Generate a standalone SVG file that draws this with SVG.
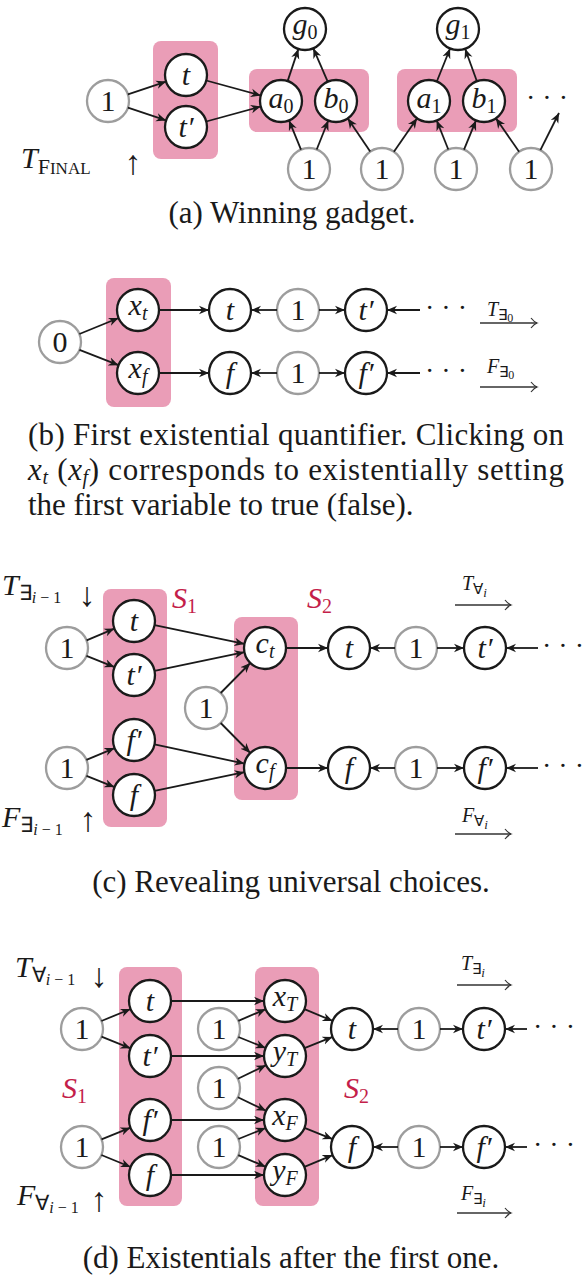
<svg xmlns="http://www.w3.org/2000/svg" width="583" height="1277" viewBox="0 0 583 1277">
<style>
text{font-family:"Liberation Serif","Times New Roman",serif;fill:#1a1a1a}
.lbl{font-size:30px;text-anchor:middle}
.it{font-style:italic}
.sub{font-size:20px;font-style:normal}
.subi{font-size:20px;font-style:italic}
.n circle{fill:#fff;stroke:#1a1a1a;stroke-width:2.3}
.g circle{fill:#fff;stroke:#9d9d9d;stroke-width:2.3}
.pink{fill:#ea9db7}
.e{stroke:#1a1a1a;stroke-width:1.8;fill:none;marker-end:url(#ah)}
.la{stroke:#333;stroke-width:1.3;fill:none;marker-end:url(#oa)}
.s{fill:#c41e4a;font-style:italic;font-size:30px}
.cap{font-size:31px}
.side{font-size:30px}
.arr{font-family:"Liberation Serif","DejaVu Serif",serif;font-size:34px;text-anchor:middle;fill:#1a1a1a}
.dots{font-size:28px;text-anchor:middle}
</style>
<defs>
<marker id="ah" markerUnits="userSpaceOnUse" markerWidth="12" markerHeight="10" refX="10" refY="5" orient="auto"><path d="M0,0.8 L10,5 L0,9.2 L3,5 z" fill="#1a1a1a"/></marker>
<marker id="oa" markerUnits="userSpaceOnUse" markerWidth="10" markerHeight="12" refX="8" refY="6" orient="auto"><path d="M2,1 C4,3.5 6,5.3 8,6 C6,6.7 4,8.5 2,11" fill="none" stroke="#333" stroke-width="1.2"/></marker>
</defs>

<!-- Panel (a) -->
<g id="a-boxes">
<rect class="pink" x="153" y="41" width="65" height="118" rx="8"/>
<rect class="pink" x="249" y="69" width="120" height="63" rx="8"/>
<rect class="pink" x="397" y="69" width="120" height="63" rx="8"/>
</g>
<g id="a-one" class="g"><circle cx="108" cy="101" r="21"/><text class="lbl" x="108" y="111">1</text></g>
<g id="a-t" class="n"><circle cx="186" cy="75" r="21"/><text class="lbl it" x="186" y="85">t</text></g>
<g id="a-tp" class="n"><circle cx="186" cy="127" r="21"/><text class="lbl it" x="186" y="137">t′</text></g>
<g id="a-a0" class="n"><circle cx="281" cy="101" r="21"/><text class="lbl" x="281" y="108"><tspan class="it">a</tspan><tspan class="sub" dy="5">0</tspan></text></g>
<g id="a-b0" class="n"><circle cx="336" cy="101" r="21"/><text class="lbl" x="336" y="108"><tspan class="it">b</tspan><tspan class="sub" dy="5">0</tspan></text></g>
<g id="a-g0" class="n"><circle cx="305" cy="29" r="21"/><text class="lbl" x="305" y="34"><tspan class="it">g</tspan><tspan class="sub" dy="5">0</tspan></text></g>
<g id="a-a1" class="n"><circle cx="429" cy="101" r="21"/><text class="lbl" x="429" y="108"><tspan class="it">a</tspan><tspan class="sub" dy="5">1</tspan></text></g>
<g id="a-b1" class="n"><circle cx="484" cy="101" r="21"/><text class="lbl" x="484" y="108"><tspan class="it">b</tspan><tspan class="sub" dy="5">1</tspan></text></g>
<g id="a-g1" class="n"><circle cx="458" cy="29" r="21"/><text class="lbl" x="458" y="34"><tspan class="it">g</tspan><tspan class="sub" dy="5">1</tspan></text></g>
<g id="a-o1" class="g"><circle cx="309" cy="169" r="21"/><text class="lbl" x="309" y="179">1</text></g>
<g id="a-o2" class="g"><circle cx="382" cy="169" r="21"/><text class="lbl" x="382" y="179">1</text></g>
<g id="a-o3" class="g"><circle cx="456" cy="169" r="21"/><text class="lbl" x="456" y="179">1</text></g>
<g id="a-o4" class="g"><circle cx="531" cy="169" r="21"/><text class="lbl" x="531" y="179">1</text></g>
<text class="dots" x="547" y="107">· · ·</text>
<text class="side" x="21" y="168"><tspan class="it">T</tspan><tspan font-size="22" dy="6">F</tspan><tspan font-size="17">INAL</tspan></text>
<text class="arr" x="133" y="174">↑</text>
<text class="cap" x="292" y="223" text-anchor="middle">(a) Winning gadget.</text>

<!-- Panel (b) -->
<rect id="b-box" class="pink" x="106" y="278" width="65" height="129" rx="8"/>
<g id="b-zero" class="g"><circle cx="60" cy="342" r="21"/><text class="lbl" x="60" y="352">0</text></g>
<g id="b-xt" class="n"><circle cx="138" cy="310" r="21"/><text class="lbl" x="138" y="315"><tspan class="it">x</tspan><tspan class="subi" dy="5">t</tspan></text></g>
<g id="b-xf" class="n"><circle cx="138" cy="373" r="21"/><text class="lbl" x="138" y="378"><tspan class="it">x</tspan><tspan class="subi" dy="5">f</tspan></text></g>
<g id="b-t" class="n"><circle cx="230" cy="310" r="21"/><text class="lbl it" x="230" y="320">t</text></g>
<g id="b-f" class="n"><circle cx="230" cy="373" r="21"/><text class="lbl it" x="230" y="383">f</text></g>
<g id="b-one1" class="g"><circle cx="298" cy="310" r="21"/><text class="lbl" x="298" y="320">1</text></g>
<g id="b-one2" class="g"><circle cx="298" cy="373" r="21"/><text class="lbl" x="298" y="383">1</text></g>
<g id="b-tp" class="n"><circle cx="366" cy="310" r="21"/><text class="lbl it" x="366" y="320">t′</text></g>
<g id="b-fp" class="n"><circle cx="366" cy="373" r="21"/><text class="lbl it" x="366" y="383">f′</text></g>
<text class="dots" x="446" y="317">· · ·</text>
<text class="dots" x="446" y="380">· · ·</text>
<text x="487" y="316" font-size="20"><tspan class="it">T</tspan><tspan font-size="15" dy="4">∃</tspan><tspan font-size="12" dy="2">0</tspan></text>
<text x="487" y="373" font-size="20"><tspan class="it">F</tspan><tspan font-size="15" dy="4">∃</tspan><tspan font-size="12" dy="2">0</tspan></text>
<text class="cap" x="28" y="445" textLength="536" lengthAdjust="spacing">(b) First existential quantifier. Clicking on</text>
<text class="cap" x="28" y="480" textLength="536" lengthAdjust="spacing"><tspan class="it">x</tspan><tspan class="subi" dy="4">t</tspan><tspan dy="-4"> (</tspan><tspan class="it">x</tspan><tspan class="subi" dy="4">f</tspan><tspan dy="-4">) corresponds to existentially setting</tspan></text>
<text class="cap" x="28" y="515">the first variable to true (false).</text>

<!-- Panel (c) -->
<rect id="c-box1" class="pink" x="103" y="589" width="64" height="238" rx="8"/>
<rect id="c-box2" class="pink" x="234" y="617" width="64" height="183" rx="8"/>
<g id="c-one1" class="g"><circle cx="67" cy="648" r="21"/><text class="lbl" x="67" y="658">1</text></g>
<g id="c-one2" class="g"><circle cx="67" cy="768" r="21"/><text class="lbl" x="67" y="778">1</text></g>
<g id="c-t" class="n"><circle cx="134" cy="621" r="21"/><text class="lbl it" x="134" y="631">t</text></g>
<g id="c-tp" class="n"><circle cx="134" cy="675" r="21"/><text class="lbl it" x="134" y="685">t′</text></g>
<g id="c-fp" class="n"><circle cx="134" cy="740" r="21"/><text class="lbl it" x="134" y="750">f′</text></g>
<g id="c-f" class="n"><circle cx="134" cy="795" r="21"/><text class="lbl it" x="134" y="805">f</text></g>
<g id="c-mid" class="g"><circle cx="206" cy="708" r="21"/><text class="lbl" x="206" y="718">1</text></g>
<g id="c-ct" class="n"><circle cx="265" cy="648" r="21"/><text class="lbl" x="265" y="653"><tspan class="it">c</tspan><tspan class="subi" dy="5">t</tspan></text></g>
<g id="c-cf" class="n"><circle cx="265" cy="768" r="21"/><text class="lbl" x="265" y="773"><tspan class="it">c</tspan><tspan class="subi" dy="5">f</tspan></text></g>
<g id="c-t2" class="n"><circle cx="349" cy="648" r="21"/><text class="lbl it" x="349" y="658">t</text></g>
<g id="c-one3" class="g"><circle cx="416" cy="648" r="21"/><text class="lbl" x="416" y="658">1</text></g>
<g id="c-tp2" class="n"><circle cx="485" cy="648" r="21"/><text class="lbl it" x="485" y="658">t′</text></g>
<g id="c-f2" class="n"><circle cx="349" cy="768" r="21"/><text class="lbl it" x="349" y="778">f</text></g>
<g id="c-one4" class="g"><circle cx="416" cy="768" r="21"/><text class="lbl" x="416" y="778">1</text></g>
<g id="c-fp2" class="n"><circle cx="485" cy="768" r="21"/><text class="lbl it" x="485" y="778">f′</text></g>
<text class="dots" x="563" y="655">· · ·</text>
<text class="dots" x="563" y="775">· · ·</text>
<text class="s" x="172" y="608">S<tspan class="sub" dy="5">1</tspan></text>
<text class="s" x="307" y="608">S<tspan class="sub" dy="5">2</tspan></text>
<text class="side" x="2" y="595"><tspan class="it">T</tspan><tspan font-size="21" dy="5">∃</tspan><tspan font-size="16" dy="3"><tspan class="it">i</tspan> − 1</tspan></text>
<text class="arr" x="87" y="606">↓</text>
<text class="side" x="2" y="827"><tspan class="it">F</tspan><tspan font-size="21" dy="5">∃</tspan><tspan font-size="16" dy="3"><tspan class="it">i</tspan> − 1</tspan></text>
<text class="arr" x="88" y="831">↑</text>
<text x="462" y="590" font-size="20"><tspan class="it">T</tspan><tspan font-size="15" dy="4">∀</tspan><tspan font-size="13" dy="3" class="it">i</tspan></text>
<text x="462" y="822" font-size="20"><tspan class="it">F</tspan><tspan font-size="15" dy="4">∀</tspan><tspan font-size="13" dy="3" class="it">i</tspan></text>
<text class="cap" x="291" y="892" text-anchor="middle">(c) Revealing universal choices.</text>

<!-- Panel (d) -->
<rect id="d-box1" class="pink" x="119" y="967" width="63" height="239" rx="8"/>
<rect id="d-box2" class="pink" x="255" y="967" width="64" height="239" rx="8"/>
<g id="d-one1" class="g"><circle cx="82" cy="1029" r="21"/><text class="lbl" x="82" y="1039">1</text></g>
<g id="d-one2" class="g"><circle cx="82" cy="1147" r="21"/><text class="lbl" x="82" y="1157">1</text></g>
<g id="d-t" class="n"><circle cx="150" cy="1001" r="21"/><text class="lbl it" x="150" y="1011">t</text></g>
<g id="d-tp" class="n"><circle cx="150" cy="1056" r="21"/><text class="lbl it" x="150" y="1066">t′</text></g>
<g id="d-fp" class="n"><circle cx="150" cy="1120" r="21"/><text class="lbl it" x="150" y="1130">f′</text></g>
<g id="d-f" class="n"><circle cx="150" cy="1175" r="21"/><text class="lbl it" x="150" y="1185">f</text></g>
<g id="d-m1" class="g"><circle cx="219" cy="1029" r="21"/><text class="lbl" x="219" y="1039">1</text></g>
<g id="d-m2" class="g"><circle cx="219" cy="1088" r="21"/><text class="lbl" x="219" y="1098">1</text></g>
<g id="d-m3" class="g"><circle cx="219" cy="1147" r="21"/><text class="lbl" x="219" y="1157">1</text></g>
<g id="d-xT" class="n"><circle cx="285" cy="1001" r="21"/><text class="lbl" x="285" y="1006"><tspan class="it">x</tspan><tspan class="subi" dy="5">T</tspan></text></g>
<g id="d-yT" class="n"><circle cx="285" cy="1056" r="21"/><text class="lbl" x="285" y="1061"><tspan class="it">y</tspan><tspan class="subi" dy="5">T</tspan></text></g>
<g id="d-xF" class="n"><circle cx="285" cy="1120" r="21"/><text class="lbl" x="285" y="1125"><tspan class="it">x</tspan><tspan class="subi" dy="5">F</tspan></text></g>
<g id="d-yF" class="n"><circle cx="285" cy="1175" r="21"/><text class="lbl" x="285" y="1180"><tspan class="it">y</tspan><tspan class="subi" dy="5">F</tspan></text></g>
<g id="d-t2" class="n"><circle cx="352" cy="1029" r="21"/><text class="lbl it" x="352" y="1039">t</text></g>
<g id="d-one3" class="g"><circle cx="419" cy="1029" r="21"/><text class="lbl" x="419" y="1039">1</text></g>
<g id="d-tp2" class="n"><circle cx="484" cy="1029" r="21"/><text class="lbl it" x="484" y="1039">t′</text></g>
<g id="d-f2" class="n"><circle cx="352" cy="1147" r="21"/><text class="lbl it" x="352" y="1157">f</text></g>
<g id="d-one4" class="g"><circle cx="419" cy="1147" r="21"/><text class="lbl" x="419" y="1157">1</text></g>
<g id="d-fp2" class="n"><circle cx="484" cy="1147" r="21"/><text class="lbl it" x="484" y="1157">f′</text></g>
<text class="dots" x="554" y="1036">· · ·</text>
<text class="dots" x="554" y="1154">· · ·</text>
<text class="s" x="62" y="1098">S<tspan class="sub" dy="5">1</tspan></text>
<text class="s" x="344" y="1098">S<tspan class="sub" dy="5">2</tspan></text>
<text class="side" x="15" y="977"><tspan class="it">T</tspan><tspan font-size="21" dy="5">∀</tspan><tspan font-size="16" dy="3"><tspan class="it">i</tspan> − 1</tspan></text>
<text class="arr" x="99" y="987">↓</text>
<text class="side" x="17" y="1205"><tspan class="it">F</tspan><tspan font-size="21" dy="5">∀</tspan><tspan font-size="16" dy="3"><tspan class="it">i</tspan> − 1</tspan></text>
<text class="arr" x="99" y="1211">↑</text>
<text x="461" y="970" font-size="20"><tspan class="it">T</tspan><tspan font-size="15" dy="4">∃</tspan><tspan font-size="13" dy="3" class="it">i</tspan></text>
<text x="461" y="1200" font-size="20"><tspan class="it">F</tspan><tspan font-size="15" dy="4">∃</tspan><tspan font-size="13" dy="3" class="it">i</tspan></text>
<text class="cap" x="291" y="1268" text-anchor="middle">(d) Existentials after the first one.</text>

<g id="connectors">
<!-- a -->
<line class="e" x1="127.9" y1="94.4" x2="166.1" y2="81.6"/>
<line class="e" x1="127.9" y1="107.6" x2="166.1" y2="120.4"/>
<line class="e" x1="206.2" y1="80.5" x2="260.8" y2="95.5"/>
<line class="e" x1="206.2" y1="121.5" x2="260.8" y2="106.5"/>
<line class="e" x1="287.6" y1="81.1" x2="298.4" y2="48.9"/>
<line class="e" x1="327.7" y1="81.7" x2="313.3" y2="48.3"/>
<line class="e" x1="436.8" y1="81.5" x2="450.1" y2="48.5"/>
<line class="e" x1="476.9" y1="81.3" x2="465.1" y2="48.7"/>
<line class="e" x1="301.0" y1="149.6" x2="289.0" y2="120.4"/>
<line class="e" x1="316.7" y1="149.5" x2="328.3" y2="120.5"/>
<line class="e" x1="370.2" y1="151.6" x2="347.8" y2="118.4"/>
<line class="e" x1="393.9" y1="151.7" x2="417.1" y2="118.3"/>
<line class="e" x1="448.3" y1="149.5" x2="436.7" y2="120.5"/>
<line class="e" x1="464.0" y1="149.6" x2="476.0" y2="120.4"/>
<line class="e" x1="519.1" y1="151.7" x2="495.9" y2="118.3"/>
<line class="e" x1="540.4" y1="150.2" x2="559" y2="113"/>
<!-- b -->
<line class="e" x1="79.4" y1="334.0" x2="118.6" y2="318.0"/>
<line class="e" x1="79.5" y1="349.8" x2="118.5" y2="365.2"/>
<line class="e" x1="159" y1="310" x2="209" y2="310"/>
<line class="e" x1="159" y1="373" x2="209" y2="373"/>
<line class="e" x1="277" y1="310" x2="251" y2="310"/>
<line class="e" x1="319" y1="310" x2="345" y2="310"/>
<line class="e" x1="277" y1="373" x2="251" y2="373"/>
<line class="e" x1="319" y1="373" x2="345" y2="373"/>
<line class="e" x1="420" y1="310" x2="387" y2="310"/>
<line class="e" x1="420" y1="373" x2="387" y2="373"/>
<line class="la" x1="480" y1="323" x2="537" y2="323"/>
<line class="la" x1="480" y1="387" x2="537" y2="387"/>
<!-- c -->
<line class="e" x1="86.6" y1="640.4" x2="114.4" y2="628.6"/>
<line class="e" x1="86.5" y1="655.9" x2="114.5" y2="667.1"/>
<line class="e" x1="86.4" y1="759.9" x2="114.6" y2="748.1"/>
<line class="e" x1="86.5" y1="775.9" x2="114.5" y2="787.1"/>
<line class="e" x1="154.6" y1="625.1" x2="244.4" y2="643.9"/>
<line class="e" x1="154.6" y1="670.8" x2="244.4" y2="652.2"/>
<line class="e" x1="154.5" y1="744.4" x2="244.5" y2="763.6"/>
<line class="e" x1="154.6" y1="790.8" x2="244.4" y2="772.2"/>
<line class="e" x1="220.7" y1="693.0" x2="250.3" y2="663.0"/>
<line class="e" x1="220.7" y1="723.0" x2="250.3" y2="753.0"/>
<line class="e" x1="286" y1="648" x2="328" y2="648"/>
<line class="e" x1="286" y1="768" x2="328" y2="768"/>
<line class="e" x1="395" y1="648" x2="370" y2="648"/>
<line class="e" x1="437" y1="648" x2="464" y2="648"/>
<line class="e" x1="395" y1="768" x2="370" y2="768"/>
<line class="e" x1="437" y1="768" x2="464" y2="768"/>
<line class="e" x1="538" y1="648" x2="506" y2="648"/>
<line class="e" x1="538" y1="768" x2="506" y2="768"/>
<line class="la" x1="455" y1="605" x2="511" y2="605"/>
<line class="la" x1="455" y1="834" x2="511" y2="834"/>
<!-- d -->
<line class="e" x1="101.4" y1="1021.0" x2="130.6" y2="1009.0"/>
<line class="e" x1="101.5" y1="1036.7" x2="130.5" y2="1048.3"/>
<line class="e" x1="101.5" y1="1139.3" x2="130.5" y2="1127.7"/>
<line class="e" x1="101.4" y1="1155.0" x2="130.6" y2="1167.0"/>
<line class="e" x1="171" y1="1001" x2="264" y2="1001"/>
<line class="e" x1="171" y1="1056" x2="264" y2="1056"/>
<line class="e" x1="171" y1="1120" x2="264" y2="1120"/>
<line class="e" x1="171" y1="1175" x2="264" y2="1175"/>
<line class="e" x1="238.3" y1="1020.8" x2="265.7" y2="1009.2"/>
<line class="e" x1="238.4" y1="1037.0" x2="265.6" y2="1048.0"/>
<line class="e" x1="237.9" y1="1078.8" x2="266.1" y2="1065.2"/>
<line class="e" x1="237.9" y1="1097.2" x2="266.1" y2="1110.8"/>
<line class="e" x1="238.4" y1="1139.0" x2="265.6" y2="1128.0"/>
<line class="e" x1="238.3" y1="1155.2" x2="265.7" y2="1166.8"/>
<line class="e" x1="304.4" y1="1009.1" x2="332.6" y2="1020.9"/>
<line class="e" x1="304.5" y1="1048.1" x2="332.5" y2="1036.9"/>
<line class="e" x1="304.5" y1="1127.9" x2="332.5" y2="1139.1"/>
<line class="e" x1="304.4" y1="1166.9" x2="332.6" y2="1155.1"/>
<line class="e" x1="398" y1="1029" x2="373" y2="1029"/>
<line class="e" x1="440" y1="1029" x2="463" y2="1029"/>
<line class="e" x1="398" y1="1147" x2="373" y2="1147"/>
<line class="e" x1="440" y1="1147" x2="463" y2="1147"/>
<line class="e" x1="527" y1="1029" x2="505" y2="1029"/>
<line class="e" x1="527" y1="1147" x2="505" y2="1147"/>
<line class="la" x1="457" y1="985" x2="511" y2="985"/>
<line class="la" x1="457" y1="1213" x2="511" y2="1213"/>
</g>
</svg>
